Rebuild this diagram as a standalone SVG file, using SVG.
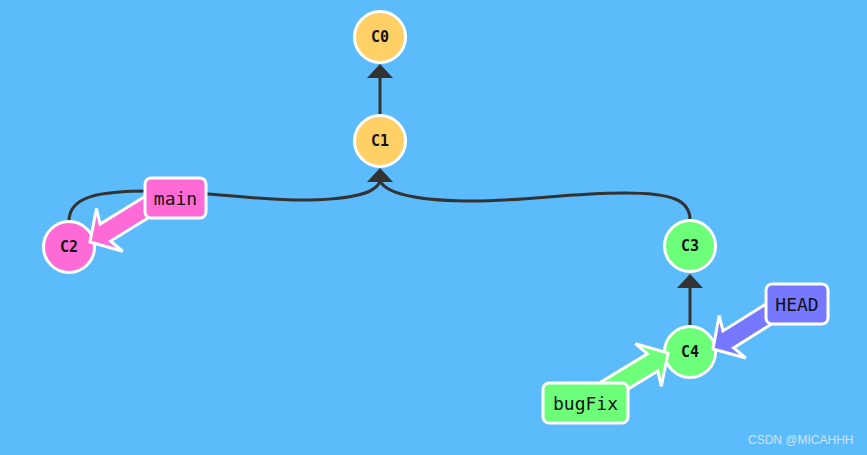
<svg xmlns="http://www.w3.org/2000/svg" width="867" height="455" viewBox="0 0 867 455">
<style>
.bg{fill:#5cbbfb}
.edge{fill:none;stroke:#333;stroke-width:3}
.ah{fill:#333}
.commit{stroke:#fff;stroke-width:3}
.ctext{font-family:"DejaVu Sans Mono","Liberation Mono",monospace;font-weight:bold;font-size:15px;fill:#111;text-anchor:middle;dominant-baseline:central}
.btext{font-family:"DejaVu Sans Mono","Liberation Mono",monospace;font-size:18px;fill:#111;text-anchor:middle;dominant-baseline:central}
.barrow{stroke:#fff;stroke-width:3;stroke-linejoin:miter}
.blabel{stroke:#fff;stroke-width:3}
.yellow{fill:#ffd066}
.pink{fill:#ff6bd6}
.green{fill:#6dff7a}
.blue{fill:#7678ff}
.wm{font-family:"Liberation Sans",Arial,sans-serif;font-size:12px;fill:#e4edf5;fill-opacity:0.85}
</style>
<defs>
<polygon id="arr" points="0,0 -23,-25 -18,-10 -80,-10 -80,10 -18,10 -23,25"/>
</defs>
<rect class="bg" x="0" y="0" width="867" height="455"/>
<g id="connectors">
<line class="edge" x1="380" y1="115" x2="380" y2="77"/>
<polygon class="ah" points="380,64 367,78 393,78"/>
<path class="edge" d="M69,221 C69,196 100,191 150,191 C215,192 260,201 310,200 C355,199 376,193 380,181"/>
<path class="edge" d="M690,220 C690,200 672,193 625,193 C565,193 520,202 465,201 C415,200 386,193 380,181"/>
<polygon class="ah" points="380,168 367,182 393,182"/>
<line class="edge" x1="690" y1="326" x2="690" y2="287"/>
<polygon class="ah" points="690,274 677,288 703,288"/>
</g>
<g id="C0"><circle class="commit yellow" cx="380" cy="37" r="25.5"/><text class="ctext" x="380" y="37">C0</text></g>
<g id="C1"><circle class="commit yellow" cx="380" cy="141" r="25.5"/><text class="ctext" x="380" y="141">C1</text></g>
<g id="C2"><circle class="commit pink" cx="69" cy="247" r="25.5"/><text class="ctext" x="69" y="247">C2</text></g>
<g id="C3"><circle class="commit green" cx="690" cy="246" r="25.5"/><text class="ctext" x="690" y="246">C3</text></g>
<g id="C4"><circle class="commit green" cx="690" cy="352" r="25.5"/><text class="ctext" x="690" y="352">C4</text></g>
<g id="main">
<use href="#arr" class="barrow pink" transform="translate(90,242) rotate(148.4)"/>
<rect class="blabel pink" x="145" y="178" width="61" height="40" rx="6"/>
<text class="btext" x="175.5" y="198">main</text>
</g>
<g id="HEAD">
<use href="#arr" class="barrow blue" transform="translate(713,349) rotate(147.9)"/>
<rect class="blabel blue" x="766" y="284" width="62" height="40" rx="6"/>
<text class="btext" x="797" y="304">HEAD</text>
</g>
<g id="bugFix">
<use href="#arr" class="barrow green" transform="translate(668,353) rotate(-31.3)"/>
<rect class="blabel green" x="543" y="383" width="85" height="40" rx="6"/>
<text class="btext" x="585.5" y="403">bugFix</text>
</g>
<text class="wm" x="748" y="444">CSDN @MICAHHH</text>
</svg>
